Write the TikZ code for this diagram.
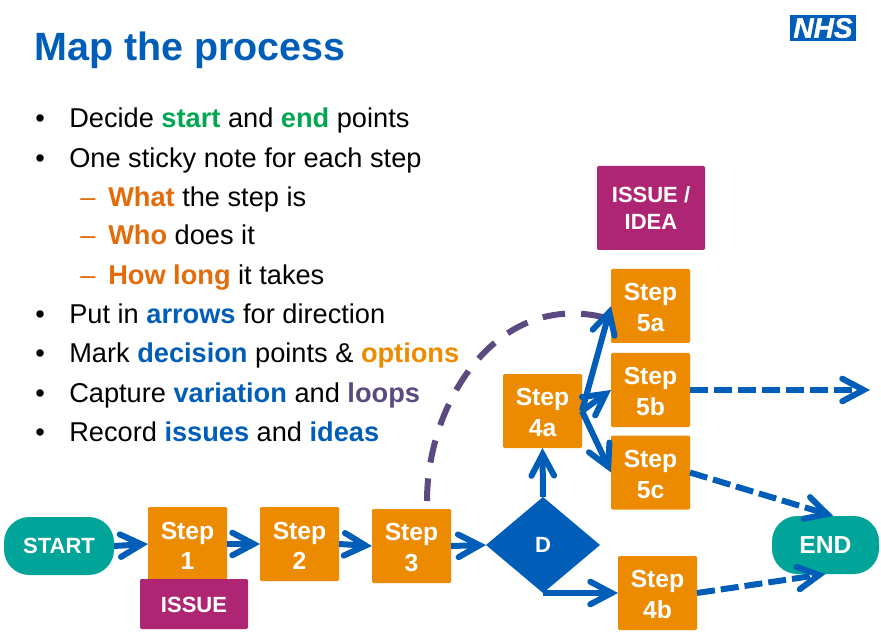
\documentclass[tikz,border=0pt]{standalone}
\usepackage{fontspec}
\setmainfont{Liberation Sans}
\usetikzlibrary{arrows.meta,shapes.geometric}

\definecolor{nhsblue}{HTML}{005EB8}
\definecolor{nhsgreen}{HTML}{00A650}
\definecolor{nhsorange}{HTML}{ED8B00}
\definecolor{nhstext}{HTML}{E36C0A}
\definecolor{nhsteal}{HTML}{00A499}
\definecolor{nhspink}{HTML}{AE2573}
\definecolor{nhspurple}{HTML}{5B4A80}

% open head with straight barbs
\pgfdeclarearrow{
  name=Chevron,
  setup code={
    \pgfarrowssettipend{4.8pt}
    \pgfarrowssetlineend{-2pt}
    \pgfarrowssetbackend{-16pt}
  },
  drawing code={
    \pgfsetdash{}{0pt}
    \pgfsetroundcap
    \pgfsetmiterjoin
    \pgfpathmoveto{\pgfqpoint{-16pt}{8.5pt}}
    \pgfpathlineto{\pgfpointorigin}
    \pgfpathlineto{\pgfqpoint{-16pt}{-8.5pt}}
    \pgfusepathqstroke
  },
}

\tikzset{
  plainbox/.style={text=white, inner sep=0pt, outer sep=0pt, rounded corners=1pt, align=center},
  stepbox/.style={plainbox, fill=nhsorange, minimum width=59.25pt, minimum height=55.5pt,
    execute at begin node={\rule{0pt}{38.6pt}},
    font=\fontsize{18.5}{23}\selectfont\bfseries},
  issuebox/.style={plainbox, fill=nhspink, minimum width=81pt,
    execute at begin node={\rule{0pt}{13pt}},
    font=\fontsize{16.5}{20}\selectfont\bfseries},
  termbox/.style={fill=nhsteal, text=white, inner sep=0pt, outer sep=0pt, rounded corners=19pt,
    minimum height=43.5pt, font=\fontsize{16.5}{20}\selectfont\bfseries},
  listtext/.style={anchor=base west, inner sep=0pt, font=\fontsize{20.4}{24}\selectfont},
  flow/.style={draw=nhsblue, line width=4.5pt, -Chevron},
  flowdash/.style={flow, dash pattern=on 13.5pt off 4.5pt},
}

\begin{document}
\begin{tikzpicture}[x=0.75pt, y=-0.75pt]
  \useasboundingbox (0,0) rectangle (881,634);

  % title and logo
  \node[anchor=base west, inner sep=0pt, text=nhsblue, font=\fontsize{29.6}{34}\selectfont\bfseries]
    (title) at (34,61) {Map the process};
  \node[fill=nhsblue, text=white, minimum width=49.5pt, minimum height=19.5pt, inner sep=0pt,
    font=\fontsize{21}{22}\selectfont\bfseries\itshape\addfontfeature{FakeBold=1.5}] (logo) at (823,28) {NHS};

  % list
  \node[listtext] (bulletA) at (35,128) {•};
  \node[listtext] (lineA) at (69,128) {Decide \textcolor{nhsgreen}{\textbf{start}} and \textcolor{nhsgreen}{\textbf{end}} points};
  \node[listtext] (bulletB) at (35,168) {•};
  \node[listtext] (lineB) at (69,168) {One sticky note for each step};
  \node[listtext, text=nhstext] (dashC) at (80,207) {–};
  \node[listtext] (lineC) at (108,207) {\textcolor{nhstext}{\textbf{What}} the step is};
  \node[listtext, text=nhstext] (dashD) at (80,245) {–};
  \node[listtext] (lineD) at (108,245) {\textcolor{nhstext}{\textbf{Who}} does it};
  \node[listtext, text=nhstext] (dashE) at (80,285) {–};
  \node[listtext] (lineE) at (108,285) {\textcolor{nhstext}{\textbf{How long}} it takes};
  \node[listtext] (bulletF) at (35,324) {•};
  \node[listtext] (lineF) at (69,324) {Put in \textcolor{nhsblue}{\textbf{arrows}} for direction};
  \node[listtext] (bulletG) at (35,363) {•};
  \node[listtext] (lineG) at (69,363) {Mark \textcolor{nhsblue}{\textbf{decision}} points \& \textcolor{nhsorange}{\textbf{options}}};
  \node[listtext] (bulletH) at (35,402) {•};
  \node[listtext] (lineH) at (69,402) {Capture \textcolor{nhsblue}{\textbf{variation}} and \textcolor{nhspurple}{\textbf{loops}}};
  \node[listtext] (bulletI) at (35,441) {•};
  \node[listtext] (lineI) at (69,441) {Record \textcolor{nhsblue}{\textbf{issues}} and \textcolor{nhsblue}{\textbf{ideas}}};

  % process
  \node[termbox, minimum width=82.5pt] (start) at (59,546) {START};
  \node[stepbox] (step1) at (187.5,544) {Step\\1};
  \node[stepbox] (step2) at (299.5,544) {Step\\2};
  \node[stepbox] (step3) at (411.5,546) {Step\\3};
  \node[diamond, fill=nhsblue, text=white, inner sep=0pt, outer sep=0pt, minimum width=85.5pt,
    minimum height=72pt, font=\fontsize{16.5}{20}\selectfont\bfseries] (decision) at (543,545) {D};
  \node[stepbox] (step4a) at (542.5,411) {Step\\4a};
  \node[stepbox] (step4b) at (657.5,593) {Step\\4b};
  \node[stepbox] (step5a) at (650.5,306) {Step\\5a};
  \node[stepbox] (step5b) at (650.5,390) {Step\\5b};
  \node[stepbox] (step5c) at (650.5,472.5) {Step\\5c};
  \node[termbox, minimum width=80.25pt, font=\fontsize{18.5}{20}\selectfont\bfseries] (end) at (825.5,545) {END};
  \node[issuebox, minimum height=37.5pt] (issue) at (194,604) {ISSUE};
  \node[issuebox, minimum height=63pt] (idea) at (651,208) {ISSUE /\\IDEA};

  % free ends
  \coordinate (loopstart) at (427,501);
  \coordinate (loopend) at (610,319);
  \coordinate (exit) at (870,390);

  \draw[draw=nhspurple, line width=4.5pt, dash pattern=on 17pt off 12pt]
    (loopstart) .. controls (427,400) and (500,287) .. (loopend);

  \draw[flow] (start.east) -- (step1.west);
  \draw[flow] (step1.east) -- (step2.west);
  \draw[flow] (step2.east) -- (step3.west);
  \draw[flow] (step3.east) -- (decision.west);
  \draw[flow] (decision.north) -- (step4a.south);
  \draw[flow] (decision.south) -- (step4b.west);
  \draw[flow] (step4a.east) -- (step5a.west);
  \draw[flow] (step4a.east) -- (step5b.west);
  \draw[flow] (step4a.east) -- (step5c.west);
  \draw[flowdash] (step5b.east) -- (exit);
  \draw[flowdash] (step5c.east) -- (end.75);
  \draw[flowdash] (step4b.east) -- (end.south);
\end{tikzpicture}
\end{document}
